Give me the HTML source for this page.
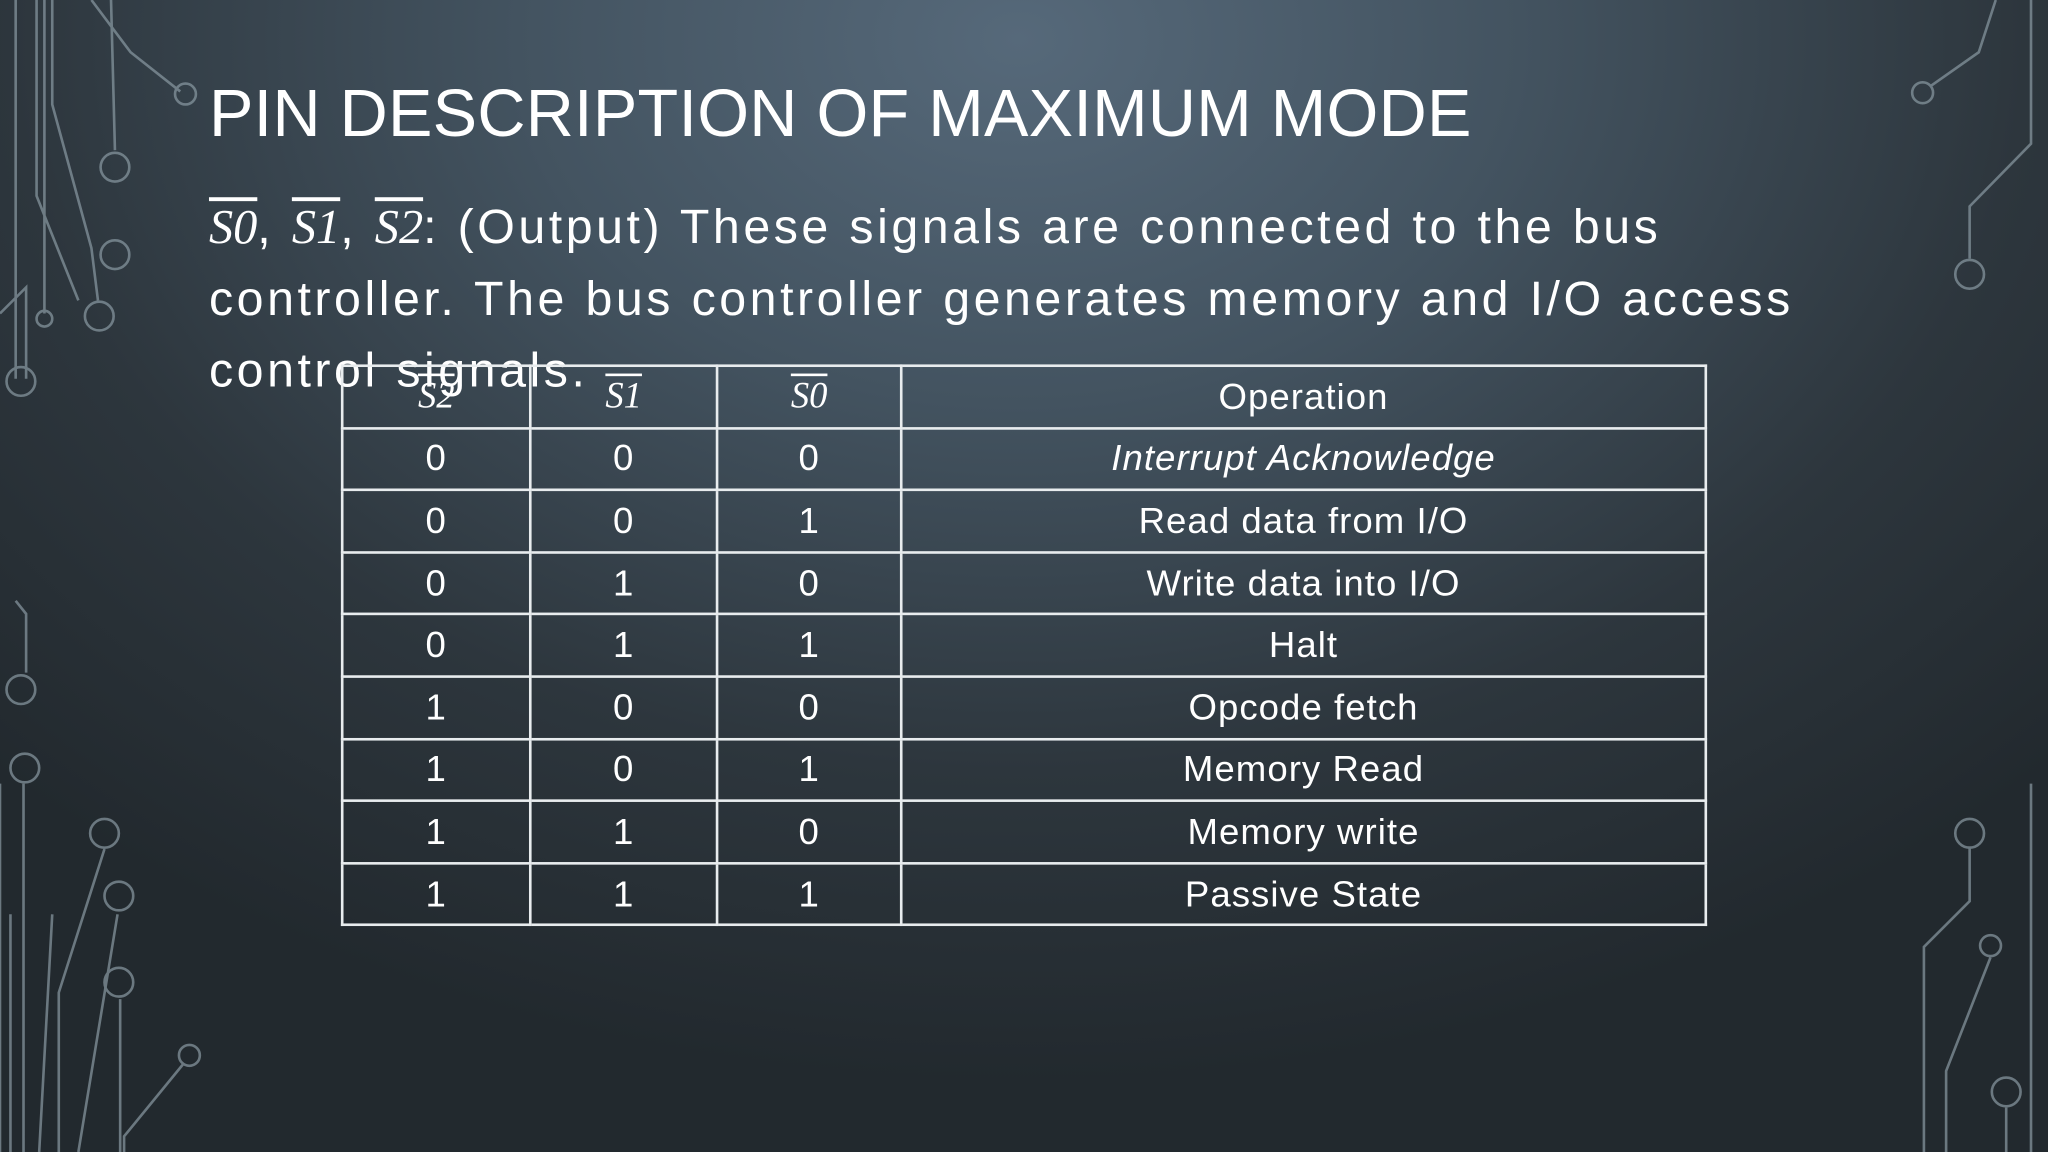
<!DOCTYPE html>
<html><head><meta charset="utf-8"><style>
html,body{margin:0;padding:0;width:2048px;height:1152px;overflow:hidden;background:#242c32}
#w{position:absolute;left:0;top:0;width:1568px;height:882px;transform:scale(1.306122);transform-origin:0 0;
background:radial-gradient(ellipse 1100px 800px at 780px 30px,#56697a 0%,#435360 35%,#2d363d 70%,#22292e 100%);
font-family:"Liberation Sans",sans-serif;color:#fff;overflow:hidden}
h1{position:absolute;left:160px;top:57px;margin:0;font-weight:normal;font-size:51px;letter-spacing:0.2px;white-space:nowrap}
.p{position:absolute;left:160px;font-size:37px;letter-spacing:2.7px;word-spacing:0.5px;white-space:nowrap}
.ov{text-decoration:overline;font-family:"Liberation Serif",serif;font-style:italic;letter-spacing:0}
table{position:absolute;left:261px;top:279px;border-collapse:collapse;width:1046px}
td{border:2px solid #e8ecee;height:45.6px;padding:0;text-align:center;font-size:28px;letter-spacing:0.8px}
</style></head><body><div id="w">
<svg width="1568" height="882" style="position:absolute;left:0;top:0" fill="none" stroke="#8a9aa3" stroke-width="2" opacity="0.7">
<path d="M12 0V290M28 0V150L60 230M40 0V80L70 190L75 230M85 0L88 115M70 0L100 40L138 70M0 240L20 220V290M34 0V240M12 460L20 470V515"/>
<circle cx="142" cy="72" r="8"/><circle cx="88" cy="128" r="11"/><circle cx="88" cy="195" r="11"/><circle cx="76" cy="242" r="11"/><circle cx="34" cy="244" r="6"/><circle cx="16" cy="292" r="11"/><circle cx="16" cy="528" r="11"/><circle cx="19" cy="588" r="11"/>
<path d="M0 600V882M8 700V882M40 700L30 882M80 650L45 760V882M90 700L60 882M92 765V882M140 815L95 870V882M18 600V882"/>
<circle cx="80" cy="638" r="11"/><circle cx="91" cy="686" r="11"/><circle cx="91" cy="752" r="11"/><circle cx="145" cy="808" r="8"/>
<path d="M1528 0L1515 40L1478 66M1555 0V110L1508 158V198M1508 648V690L1473 725V882M1524 733L1490 820V882M1536 848V882M1555 600V882"/>
<circle cx="1472" cy="71" r="8"/><circle cx="1508" cy="210" r="11"/><circle cx="1508" cy="638" r="11"/><circle cx="1524" cy="724" r="8"/><circle cx="1536" cy="836" r="11"/>
</svg>
<h1>PIN DESCRIPTION OF MAXIMUM MODE</h1>
<div class="p" style="top:153px"><span class="ov">S0</span>, <span class="ov">S1</span>, <span class="ov">S2</span>: (Output) These signals are connected to the bus</div>
<div class="p" style="top:208px">controller. The bus controller generates memory and I/O access</div>
<div class="p" style="top:263px">control signals.</div>
<table>
<tr><td style="width:142px"><span class="ov">S2</span></td><td style="width:141px"><span class="ov">S1</span></td><td style="width:139px"><span class="ov">S0</span></td><td>Operation</td></tr>
<tr><td>0</td><td>0</td><td>0</td><td><i>Interrupt Acknowledge</i></td></tr>
<tr><td>0</td><td>0</td><td>1</td><td>Read data from I/O</td></tr>
<tr><td>0</td><td>1</td><td>0</td><td>Write data into I/O</td></tr>
<tr><td>0</td><td>1</td><td>1</td><td>Halt</td></tr>
<tr><td>1</td><td>0</td><td>0</td><td>Opcode fetch</td></tr>
<tr><td>1</td><td>0</td><td>1</td><td>Memory Read</td></tr>
<tr><td>1</td><td>1</td><td>0</td><td>Memory write</td></tr>
<tr><td>1</td><td>1</td><td>1</td><td>Passive State</td></tr>
</table>
</div></body></html>
